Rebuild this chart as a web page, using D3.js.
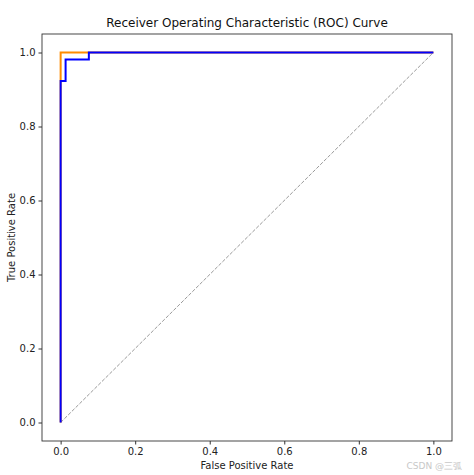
<!DOCTYPE html>
<html><head><meta charset="utf-8">
<script src="https://cdn.jsdelivr.net/npm/d3@7"></script>
<style>body{margin:0;background:#fff}svg{display:block}text{font-family:"DejaVu Sans",sans-serif}</style>
</head><body><svg id="c" width="474" height="475"></svg>
<script>
const fprOrange = [0, 0, 1];
const tprOrange = [0, 1, 1];
const fprBlue = [0, 0, 0.0133, 0.0133, 0.0757, 0.0757, 1];
const tprBlue = [0, 0.923, 0.923, 0.981, 0.981, 1, 1];
const diagX = [0, 1];
const diagY = [0, 1];
const ticks = [0, 0.2, 0.4, 0.6, 0.8, 1.0];

const svg = d3.select("#c");
const L = 42, R = 452, T = 34, B = 441;
const x = d3.scaleLinear().domain([-0.05, 1.05]).range([L, R]);
const y = d3.scaleLinear().domain([-0.05, 1.05]).range([B, T]);

const line = d3.line().x(d => x(d[0])).y(d => y(d[1]));
svg.append("path").datum(diagX.map((v, i) => [v, diagY[i]]))
  .attr("d", line).attr("fill", "none").attr("stroke", "#999").attr("stroke-width", 1).attr("stroke-dasharray", "3.7,1.6");
svg.append("path").datum(fprOrange.map((v, i) => [v, tprOrange[i]]))
  .attr("d", line).attr("fill", "none").attr("stroke", "#ff8c00").attr("stroke-width", 2);
svg.append("path").datum(fprBlue.map((v, i) => [v, tprBlue[i]]))
  .attr("d", line).attr("fill", "none").attr("stroke", "#0000ff").attr("stroke-width", 2);

const xa = svg.append("g").attr("transform", `translate(0,${B})`)
  .call(d3.axisBottom(x).tickValues(ticks).tickFormat(d3.format(".1f")).tickSize(3.5).tickPadding(3));
const ya = svg.append("g").attr("transform", `translate(${L},0)`)
  .call(d3.axisLeft(y).tickValues(ticks).tickFormat(d3.format(".1f")).tickSize(3.5).tickPadding(3));
[xa, ya].forEach(a => { a.select(".domain").remove(); a.selectAll("text").attr("font-size", 10).attr("fill", "#222").style("font-family", "DejaVu Sans"); a.selectAll("line").attr("stroke", "#333"); });

svg.append("rect").attr("x", L).attr("y", T).attr("width", R - L).attr("height", B - T)
  .attr("fill", "none").attr("stroke", "#333").attr("stroke-width", 0.9);

svg.append("text").attr("x", (L + R) / 2).attr("y", 27).attr("text-anchor", "middle")
  .attr("font-size", 12).attr("fill", "#111").text("Receiver Operating Characteristic (ROC) Curve");
svg.append("text").attr("x", (L + R) / 2).attr("y", 469).attr("text-anchor", "middle")
  .attr("font-size", 10).attr("fill", "#222").text("False Positive Rate");
svg.append("text").attr("transform", `translate(15,${(T + B) / 2}) rotate(-90)`).attr("text-anchor", "middle")
  .attr("font-size", 10).attr("fill", "#222").text("True Positive Rate");
svg.append("text").attr("x", 462).attr("y", 469).attr("text-anchor", "end")
  .attr("font-size", 9).attr("fill", "#c8c8c8").text("CSDN @三弧");
</script></body></html>
